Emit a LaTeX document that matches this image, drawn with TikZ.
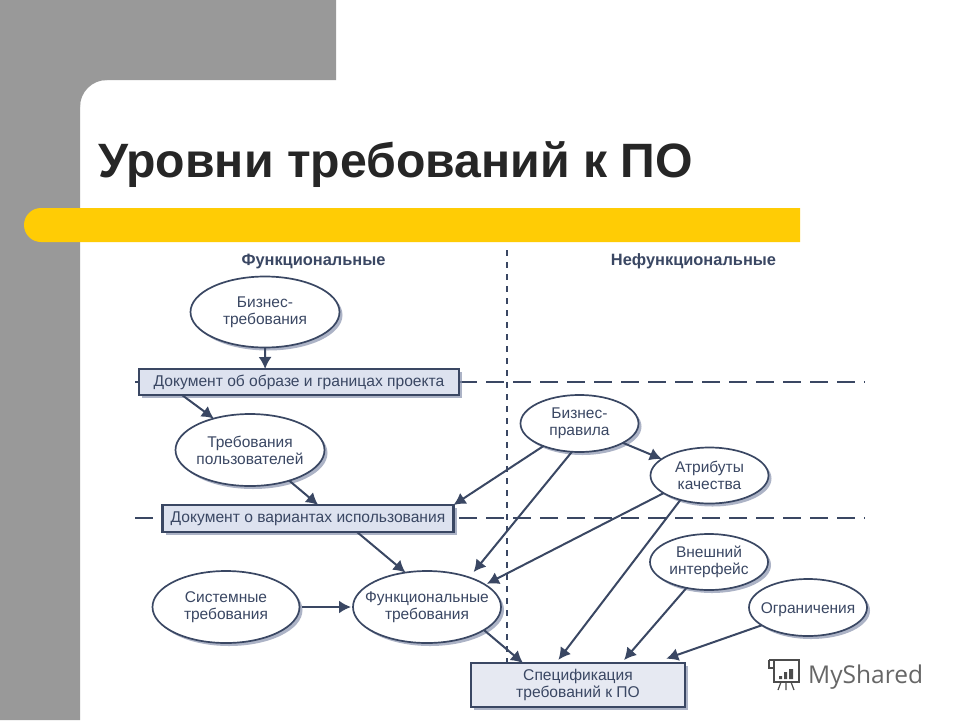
\documentclass[tikz,border=0pt]{standalone}
\usepackage{fontspec}
\setmainfont{Liberation Sans}
\newfontfamily\logofont{Open Sans}
\usepackage{tikz}
\usetikzlibrary{positioning}
\usetikzlibrary{arrows.meta}
\usetikzlibrary{shapes,shadows}

\definecolor{inkblue}{HTML}{3A4763}
\definecolor{shadowblue}{HTML}{8A93AE}
\definecolor{boxblue}{HTML}{DDE2EF}
\definecolor{specblue}{HTML}{E6E9F2}
\definecolor{slidegray}{HTML}{999999}
\definecolor{baryellow}{HTML}{FFCC05}

\tikzset{
  softshadow/.style={drop shadow={shadow xshift=3pt,shadow yshift=-3pt,fill=shadowblue,opacity=.7}},
  reqnode/.style={ellipse,draw=inkblue,line width=1.7pt,fill=white,softshadow,text=inkblue,align=center,
    inner sep=-15pt,outer sep=0pt,font=\fontsize{15.5}{17}\selectfont,execute at begin node={\rule{0pt}{15pt}}},
  docnode/.style={rectangle,draw=inkblue,line width=2.2pt,fill=boxblue,softshadow,text=inkblue,align=center,
    inner sep=0pt,outer sep=0pt,font=\fontsize{15.6}{17}\selectfont},
  flow/.style={-{Latex[length=12pt,width=13pt]},draw=inkblue,line width=2pt},
  levelline/.style={draw=inkblue,line width=2.4pt,dash pattern=on 18pt off 9pt},
  sideline/.style={draw=inkblue,line width=2.4pt,dash pattern=on 6pt off 6pt},
  heading/.style={anchor=base,text=inkblue,font=\fontsize{16.4}{18}\selectfont\bfseries}
}

\begin{document}
\begin{tikzpicture}[x=1pt,y=-1pt]
\useasboundingbox (0,0) rectangle (960,720);

\fill[white] (0,0) rectangle (960,720);
\fill[slidegray] (0,0) rectangle (336,80) (0,80) rectangle (80,720);
\fill[slidegray] (80,80) -- (107,80) .. controls (92,80) and (80,92) .. (80,107) -- cycle;
\fill[baryellow,rounded corners=17pt] (70,208) -- (24,208) -- (24,242) -- (70,242) [sharp corners] -- (800,242) -- (800,208) -- cycle;
\node[anchor=base west,inner sep=0pt,text=black!85,font=\fontsize{48.2}{56}\selectfont\bfseries](title) at (98,177){Уровни требований к ПО};

\node[heading](funchead) at (313.5,265){Функциональные};
\node[heading](nonfunchead) at (693.5,265){Нефункциональные};

\coordinate(topL) at (135,382);
\coordinate(topR) at (865,382);
\coordinate(midL) at (135,518);
\coordinate(midR) at (865,518);
\coordinate(sideT) at (507,250);
\coordinate(sideB) at (507,663);
\draw[levelline](topL)--(topR);
\draw[levelline](midL)--(midR);
\draw[sideline](sideT)--(sideB);

\node[reqnode,minimum width=149pt,minimum height=71pt](bizreq) at (265,312){Бизнес-\\требования};
\node[docnode,minimum width=320pt,minimum height=26pt](docvision) at (299,382){Документ об образе и границах проекта};
\node[reqnode,minimum width=149pt,minimum height=72pt](userreq) at (250,450){Требования\\пользователей};
\node[docnode,minimum width=291pt,minimum height=27pt](docuse) at (308,518.5){Документ о вариантах использования};
\node[reqnode,minimum width=147pt,minimum height=72pt](sysreq) at (226,607){Системные\\требования};
\node[reqnode,minimum width=148pt,minimum height=72pt](funcreq) at (427,607){Функциональные\\требования};
\node[reqnode,minimum width=118pt,minimum height=57pt](bizrule) at (579.5,423.5){Бизнес-\\правила};
\node[reqnode,minimum width=118pt,minimum height=56pt](attr) at (709.5,475.5){Атрибуты\\качества};
\node[reqnode,minimum width=118pt,minimum height=56pt](extif) at (709,562){Внешний\\интерфейс};
\node[reqnode,minimum width=118pt,minimum height=57pt](limits) at (808,607.5){Ограничения};
\node[docnode,fill=specblue,minimum width=214pt,minimum height=44pt](spec) at (578,685){Спецификация\\требований к ПО};

\path
(bizreq.south) edge[flow] (docvision.159)
([xshift=-117pt]docvision.south) edge[flow] (userreq.139)
(userreq.-38.7) edge[flow] (docuse.53.5)
([xshift=49pt]docuse.south) edge[flow] (funcreq.122.6)
(sysreq.east) edge[flow, shorten <=2pt, shorten >=2pt] (funcreq.west)
(funcreq.-22.8) edge[flow] ([xshift=-55pt]spec.north)
(bizrule.212.8) edge[flow] (docuse.north east)
(bizrule.255) edge[flow, shorten >=7pt] (funcreq.35.3)
(bizrule.-24.7) edge[flow] (attr.161.9)
(attr.201.7) edge[flow, shorten >=2pt] (funcreq.21.5)
(attr.220) edge[flow, shorten >=4pt] ([xshift=-22pt]spec.north)
(extif.229.4) edge[flow, shorten >=4pt] ([xshift=43.5pt]spec.north)
(limits.201) edge[flow, shorten >=13pt] ([xshift=76pt]spec.north);

\node[anchor=base west,inner sep=0pt,text=black!60,font=\logofont\fontsize{24.5}{30}\selectfont](logotext) at (808,683){MyShared};
\draw[black!70,line width=1.5pt] (769,660) -- (800,660) (774,660) -- (774,682) -- (799,682) -- (799,660) (769,660) -- (769,668) -- (774,668);
\fill[black!70] (779,676) rectangle (782,679) (784,672) rectangle (787,679) (789,669) rectangle (793,679);
\draw[black!70,line width=1.2pt] (781,682) -- (778,690) (786,682) -- (786,690) (791,682) -- (794,690);
\end{tikzpicture}
\end{document}
